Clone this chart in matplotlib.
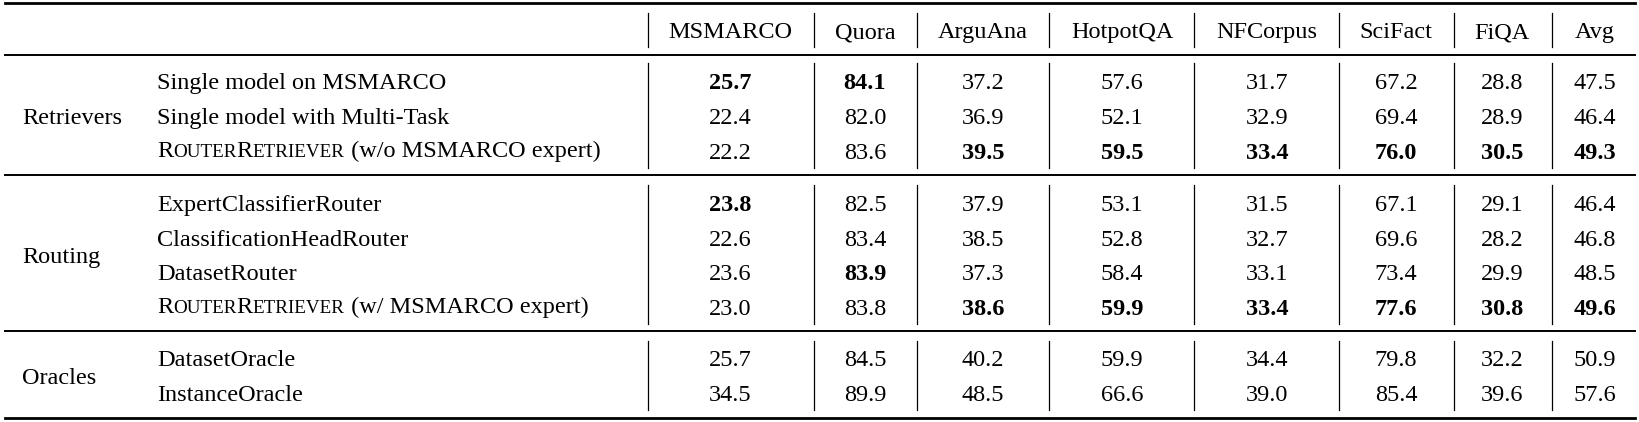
import matplotlib
matplotlib.use("Agg")
import matplotlib.pyplot as plt

plt.rcParams["font.family"] = ["Liberation Serif", "DejaVu Serif"]

W, H = 1640, 422
FS = 17.5

columns = ["MSMARCO", "Quora", "ArguAna", "HotpotQA", "NFCorpus", "SciFact", "FiQA", "Avg"]
groups = ["Retrievers", "Routing", "Oracles"]
methods = [
    ["Single model on MSMARCO", "Single model with Multi-Task", "@RR (w/o MSMARCO expert)"],
    ["ExpertClassifierRouter", "ClassificationHeadRouter", "DatasetRouter", "@RR (w/ MSMARCO expert)"],
    ["DatasetOracle", "InstanceOracle"],
]
scores = [
    [[25.7, 84.1, 37.2, 57.6, 31.7, 67.2, 28.8, 47.5],
     [22.4, 82.0, 36.9, 52.1, 32.9, 69.4, 28.9, 46.4],
     [22.2, 83.6, 39.5, 59.5, 33.4, 76.0, 30.5, 49.3]],
    [[23.8, 82.5, 37.9, 53.1, 31.5, 67.1, 29.1, 46.4],
     [22.6, 83.4, 38.5, 52.8, 32.7, 69.6, 28.2, 46.8],
     [23.6, 83.9, 37.3, 58.4, 33.1, 73.4, 29.9, 48.5],
     [23.0, 83.8, 38.6, 59.9, 33.4, 77.6, 30.8, 49.6]],
    [[25.7, 84.5, 40.2, 59.9, 34.4, 79.8, 32.2, 50.9],
     [34.5, 89.9, 48.5, 66.6, 39.0, 85.4, 39.6, 57.6]],
]
# (group, row, col) cells printed in bold
bold = {(0, 0, 0), (0, 0, 1), (0, 2, 2), (0, 2, 3), (0, 2, 4), (0, 2, 5), (0, 2, 6), (0, 2, 7),
        (1, 0, 0), (1, 2, 1), (1, 3, 2), (1, 3, 3), (1, 3, 4), (1, 3, 5), (1, 3, 6), (1, 3, 7)}

col_x = [730, 865, 983, 1122, 1267, 1396, 1502, 1595]
sep_x = [648, 814, 917, 1049, 1194, 1339, 1454, 1552]
row_y = [[81, 116, 151], [203, 238, 272, 307], [358, 393]]
blocks = [(63, 168), (185, 324), (341, 410)]
hlines = [(3, 2.0), (55, 1.4), (175, 1.4), (331, 1.4), (418, 2.0)]

fig = plt.figure(figsize=(W / 100, H / 100), dpi=100)
ax = fig.add_axes([0, 0, 1, 1])
ax.set_xlim(0, W)
ax.set_ylim(H, 0)
ax.axis("off")
fig.canvas.draw()
renderer = fig.canvas.get_renderer()


def smallcaps(x, y, rest):
    # fake small caps for "RouterRetriever", drawn piece by piece on one baseline
    parts = [("R", FS), ("OUTER", FS * 0.78), ("R", FS), ("ETRIEVER", FS * 0.78), (rest, FS)]
    for s, size in parts:
        t = ax.text(x, y, s, fontsize=size, va="baseline", ha="left")
        x += t.get_window_extent(renderer).width


for y0, y1 in [(13, 47)] + blocks:
    for sx in sep_x:
        ax.plot([sx, sx], [y0, y1], color="black", lw=0.9)
for y, lw in hlines:
    ax.plot([5, 1635], [y, y], color="black", lw=lw)

for c, x in zip(columns, col_x):
    ax.text(x, 30, c, fontsize=FS, ha="center", va="center_baseline")

for g, name in enumerate(groups):
    ys = row_y[g]
    ax.text(22, (ys[0] + ys[-1]) / 2, name, fontsize=FS, va="center_baseline")
    for r, m in enumerate(methods[g]):
        y = ys[r]
        if m.startswith("@RR"):
            smallcaps(157, y + 6, m[3:])
        else:
            ax.text(157, y, m, fontsize=FS, va="center_baseline")
        for c, v in enumerate(scores[g][r]):
            ax.text(col_x[c], y, f"{v:.1f}", fontsize=FS, ha="center", va="center_baseline",
                    fontweight="bold" if (g, r, c) in bold else "normal")

fig.savefig("out.png", dpi=100)
